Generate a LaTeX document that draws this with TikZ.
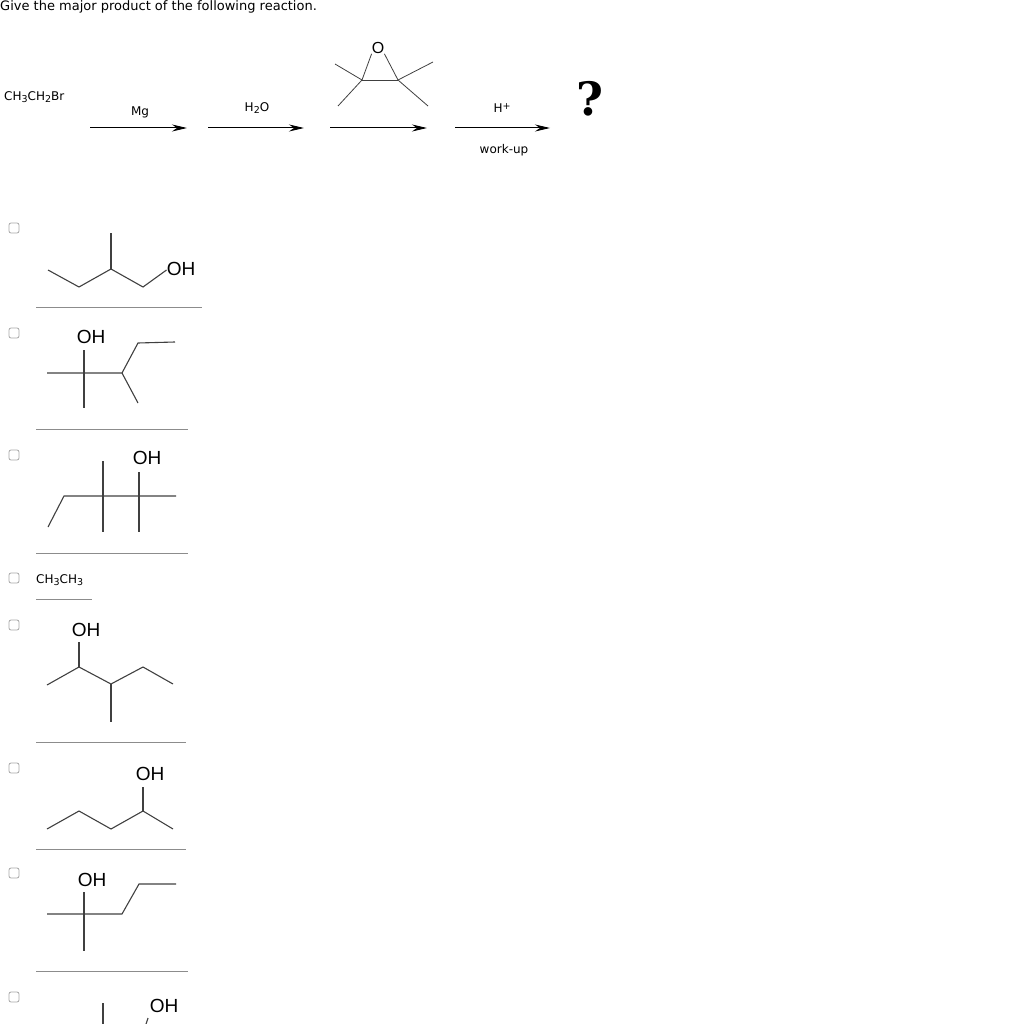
\documentclass[tikz,border=0pt]{standalone}
\usepackage{fontspec}
\setmainfont{DejaVu Sans}
\newfontfamily\arialf{Liberation Sans}
\newfontfamily\serifb{DejaVu Serif}
\usetikzlibrary{arrows.meta}
\newcommand{\sbs}[1]{\raisebox{-0.35ex}{\fontsize{9.5}{11}\selectfont #1}}
\newcommand{\sps}[1]{\raisebox{0.6ex}{\fontsize{9.5}{11}\selectfont #1}}
\begin{document}
\begin{tikzpicture}[x=1pt,y=-1pt,
  bond/.style={draw=black!75,line width=1.1pt},
  sep/.style={draw=black!45,line width=0.9pt},
  lbl/.style={font=\fontsize{12}{14}\selectfont,inner sep=0pt},
  oh/.style={font=\arialf\fontsize{19}{22}\selectfont,inner sep=0pt},
  box/.style={draw=black!35,rounded corners=2pt,line width=0.8pt,minimum size=10pt,inner sep=0pt},
  rxn/.style={draw=black,line width=1pt,-{Stealth[length=15pt,width=7pt,inset=5pt]}}]
\useasboundingbox (0,0) rectangle (1017,1024);
\node[lbl,anchor=west,font=\fontsize{13}{15}\selectfont] (title) at (0,7) {Give the major product of the following reaction.};
\node[lbl,anchor=west] (rx) at (4,97) {CH\sbs{3}CH\sbs{2}Br};
\foreach \a/\b [count=\i] in {90/187,208/304,330/427,455/550}{
  \coordinate (s\i) at (\a,128); \coordinate (e\i) at (\b,128);
  \draw[rxn] (s\i) -- (e\i);}
\node[lbl] (mg) at (140,112) {Mg};
\node[lbl] (h2o) at (257,108) {H\sbs{2}O};
\node[lbl] (hp) at (502,108) {H\sps{+}};
\node[lbl] (wu) at (504,150) {work-up};
\node[font=\serifb\bfseries\fontsize{46}{50}\selectfont,inner sep=0pt] (q) at (590,99) {?};
% epoxide
\node[oh,font=\arialf\fontsize{16}{18}\selectfont] (O) at (378,48) {O};
\coordinate (c1) at (362,80); \coordinate (c2) at (398,80);
\draw[bond,line width=0.8pt] (c1) -- (c2);
\draw[bond,line width=0.8pt] (c1) -- (O.south west);
\draw[bond,line width=0.8pt] (c2) -- (O.south east);
\draw[bond,line width=0.8pt] (c1) -- (335,64) (c1) -- (338,106) (c2) -- (433,62) (c2) -- (428,106);
% checkboxes
\foreach \y [count=\i] in {228,333,455,578,625,768,873,997}
  \node[box] (cb\i) at (14,\y) {};
% separators
\foreach \y/\r in {307/202,429/188,553/188,599/92,742/186,849/186,971/188}
  \draw[sep] (36,\y) -- (\r,\y);
% 1
\node[oh] (oh1) at (181,269) {OH};
\draw[bond] (48,270) -- (79,287) -- (111,269) -- (143,287) -- (oh1.west|-163,270);
\draw[bond] (111,269) -- (111,233);
% 2
\node[oh] (oh2) at (91,337) {OH};
\draw[bond] (84,350) -- (84,408);
\draw[bond] (47,373) -- (122,373) -- (138,343) -- (175,342);
\draw[bond] (122,373) -- (138,403);
% 3
\node[oh] (oh3) at (147,458) {OH};
\draw[bond] (103,461) -- (103,532);
\draw[bond] (139,472) -- (139,532);
\draw[bond] (48,527) -- (64,496) -- (176,496);
% 4
\node[lbl,anchor=west] (e4) at (36,580) {CH\sbs{3}CH\sbs{3}};
% 5
\node[oh] (oh5) at (86,630) {OH};
\draw[bond] (79,642) -- (79,667);
\draw[bond] (47,685) -- (79,667) -- (111,684) -- (143,667) -- (173,684);
\draw[bond] (111,684) -- (111,722);
% 6
\node[oh] (oh6) at (150,774) {OH};
\draw[bond] (143,787) -- (143,811);
\draw[bond] (47,829) -- (79,811) -- (111,829) -- (143,811) -- (173,829);
% 7
\node[oh] (oh7) at (92,880) {OH};
\draw[bond] (84,892) -- (84,951);
\draw[bond] (47,914) -- (122,914) -- (139,884) -- (176,884);
% 8
\node[oh] (oh8) at (164,1006) {OH};
\draw[bond] (103,1003) -- (103,1024);
\draw[bond] (148,1018) -- (146,1024);
\end{tikzpicture}
\end{document}
